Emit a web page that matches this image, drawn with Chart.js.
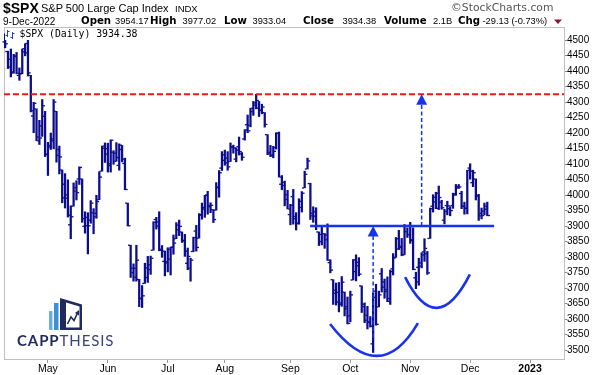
<!DOCTYPE html>
<html>
<head>
<meta charset="utf-8">
<script src="https://cdn.jsdelivr.net/npm/chart.js@4"></script>
<style>
  body { margin: 0; background: #fff; }
  #wrap { position: relative; width: 594px; height: 375px; overflow: hidden; }
  #chart { position: absolute; left: 0; top: 0; }
  .t { position: absolute; white-space: nowrap; line-height: 1; font-family: 'Liberation Sans', Arial, sans-serif; color: #000; }
  .b { font-family: 'DejaVu Sans'; font-weight: bold; font-size: 10.2px; top: 16.3px; }
  .v { font-size: 9.3px; top: 17.1px; }
  #leg { position: absolute; left: 5px; top: 28px; width: 133px; height: 12px; background: #fff; }
</style>
</head>
<body>
<div id="wrap">
  <canvas id="chart" width="594" height="375"></canvas>
  <div id="leg"></div>
  <svg style="position:absolute;left:0;top:0" width="594" height="375">
    <!-- legend icon -->
    <g stroke="#2c3fc8" stroke-width="1" fill="none">
      <path d="M7.5 30 V37 M7.5 31.5 H9.5 M5.5 35.5 H7.5"/>
      <path d="M12.5 32 V39 M12.5 33.5 H14.5 M10.5 37.5 H12.5"/>
    </g>
    <!-- change arrow -->
    <path d="M554 19.5 L562 19.5 L558 24 Z" fill="#8b1538"/>
    <!-- logo icon -->
    <rect x="49" y="311" width="3.5" height="19" fill="#6aaee0"/>
    <rect x="54" y="303" width="4.5" height="27" fill="#3f8fd6"/>
    <path d="M60 298 L82 304.5 L82 330 L60 330 Z M66 302.5 L79.5 306.5 L79.5 327.5 L66 327.5 Z" fill="#1f2b5e" fill-rule="evenodd"/>
    <polyline points="67.5,324 71,317 74,320.5 77.5,313" fill="none" stroke="#1f2b5e" stroke-width="1.6"/>
    <path d="M79 310 L79 315.5 L75 313 Z" fill="#1f2b5e"/>
  </svg>

  <div class="t" style="left:3px;top:1px;font-size:14px;font-weight:bold">$SPX</div>
  <div class="t" style="left:41px;top:2.7px;font-size:11px">S&amp;P 500 Large Cap Index</div>
  <div class="t" style="left:175px;top:3.5px;font-size:9.5px">INDX</div>
  <div class="t" style="left:451px;top:2.7px;font-size:10.8px;font-family:'DejaVu Sans';color:#555">©StockCharts.com</div>

  <div class="t" style="left:3px;top:16.5px;font-size:10px">9-Dec-2022</div>
  <div class="t b" style="left:81px">Open</div><div class="t v" style="left:115px">3954.17</div>
  <div class="t b" style="left:150px">High</div><div class="t v" style="left:182.5px">3977.02</div>
  <div class="t b" style="left:224px">Low</div><div class="t v" style="left:252.5px">3933.04</div>
  <div class="t b" style="left:303px">Close</div><div class="t v" style="left:342.5px">3934.38</div>
  <div class="t b" style="left:384px">Volume</div><div class="t v" style="left:433px">2.1B</div>
  <div class="t b" style="left:458px">Chg</div><div class="t v" style="left:482.5px">-29.13 (-0.73%)</div>

  <div class="t" style="left:19.5px;top:29px;font-size:9.8px;font-family:'DejaVu Sans Mono'">$SPX (Daily) 3934.38</div>

  <div class="t" style="left:17px;top:332.7px;font-size:15px;font-family:Lato;color:#1f2b5e;letter-spacing:0.9px"><b>CAPP</b><span style="color:#3a4478">THESIS</span></div>
</div>

<script>
// daily OHLC, 8-Apr-2022 .. 9-Dec-2022 (index 0 = 8-Apr)
const opens = [
  4494,4463,4438,4394,4449,4386,4391,4472,4489,4386,4255,4278,4187,4223,4254,
  4131,4160,4181,4270,4128,4081,4035,3990,3904,3964,4013,4052,4052,3899,3928,3919,3943,3930,3985,4077,4151,
  4150,4095,4138,4135,4096,4147,4102,3974,3838,3764,3764,3728,3666,3715,3734,3775,3822,3921,3913,3825,3786,
  3781,3793,3832,3859,3888,3881,3852,3780,3764,3818,3884,3861,3935,3955,4000,3966,3953,3951,4026,4087,
  4112,4104,4108,4155,4116,4156,4133,4181,4227,4225,4269,4290,4280,4273,4266,4195,4133,4127,4153,4199,4035,4041,4001,
  3937,3995,3931,3909,3960,4023,4084,4037,3941,3932,3881,3850,3875,3871,3782,3727,3683,3686,3652,3687,3633,
  3610,3726,3753,3772,3707,3648,3596,3591,3520,3690,3639,3746,3703,3689,3657,3762,3799,3826,3835,3808,3882,
  3902,3853,3733,3767,3781,3817,3811,3860,3964,3978,4006,3977,3919,3966,3956,3966,4000,4023,4005,3964,3957,
  4087,4040,4052,3997,3933,3948,3954
];
const highs = [
  4520,4464,4471,4454,4460,4410,4471,4488,4513,4386,4299,4278,4241,4308,4270,
  4170,4200,4308,4270,4158,4081,4069,4049,3965,4039,4046,4091,4052,3946,3943,3982,3956,3999,4075,4158,4168,
  4167,4178,4143,4169,4165,4160,4119,3974,3838,3778,3838,3728,3708,3780,3802,3803,3914,3928,3946,3837,3819,
  3830,3832,3871,3911,3919,3881,3873,3829,3796,3864,3902,3940,3974,3999,4012,3975,3953,4040,4079,4140,
  4145,4140,4168,4161,4152,4187,4137,4211,4258,4280,4302,4325,4302,4293,4266,4195,4160,4157,4201,4203,4063,4045,4015,
  3970,4018,3943,3988,4011,4077,4119,4038,3962,3959,3881,3900,3876,3907,3791,3727,3716,3718,3737,3687,3671,
  3690,3792,3807,3798,3707,3652,3641,3608,3685,3712,3690,3763,3729,3736,3758,3811,3863,3886,3860,3905,3894,
  3912,3894,3751,3796,3814,3859,3818,3958,4001,4009,4029,3983,3954,3980,3962,4006,4034,4034,4012,3977,4080,
  4101,4080,4052,4002,3958,3974,3977
];
const lows = [
  4475,4408,4381,4393,4391,4370,4391,4449,4384,4268,4201,4175,4163,4189,4124,
  4063,4147,4149,4106,4068,3975,3958,3929,3859,3964,3984,4034,3912,3877,3810,3909,3875,3925,3985,4077,4105,
  4074,4074,4099,4109,4080,4107,4017,3900,3734,3722,3722,3640,3637,3715,3718,3744,3822,3890,3820,3799,3739,
  3752,3742,3809,3859,3869,3847,3802,3759,3722,3817,3819,3861,3922,3928,3938,3943,3911,3951,3993,4079,
  4096,4080,4108,4135,4107,4129,4112,4177,4201,4220,4257,4278,4253,4262,4219,4130,4124,4120,4148,4058,4017,3965,3955,
  3904,3906,3887,3906,3945,4023,4084,3921,3912,3888,3837,3839,3828,3789,3749,3647,3645,3623,3641,3610,3584,
  3591,3726,3723,3739,3621,3588,3568,3574,3492,3580,3639,3687,3667,3656,3647,3742,3799,3824,3804,3808,3863,
  3844,3759,3698,3709,3765,3786,3744,3860,3945,3956,3953,3954,3907,3936,3933,3957,3999,4021,3956,3938,3939,
  4051,4027,3984,3918,3923,3936,3933
];
const closes = [
  4488,4413,4397,4447,4393,4392,4462,4459,4394,4272,4296,4175,4184,4288,4132,
  4155,4175,4300,4147,4123,3991,4001,3935,3930,4024,4008,4089,3924,3901,3901,3974,3941,3979,4058,4158,4132,
  4101,4177,4109,4121,4161,4116,4018,3901,3750,3735,3790,3667,3675,3765,3760,3796,3912,3900,3822,3819,3785,
  3825,3831,3845,3903,3899,3854,3819,3802,3790,3863,3831,3937,3960,3999,3962,3967,3921,4024,4072,4130,
  4119,4091,4155,4152,4145,4140,4122,4210,4207,4280,4297,4305,4274,4284,4228,4138,4129,4141,4199,4058,4031,3986,3955,
  3967,3924,3908,3980,4006,4067,4110,3933,3946,3901,3873,3900,3856,3790,3758,3693,3655,3647,3719,3640,3586,
  3678,3791,3783,3745,3640,3612,3589,3577,3670,3583,3678,3720,3695,3666,3753,3797,3859,3831,3807,3901,3872,
  3856,3760,3720,3771,3807,3828,3749,3956,3993,3957,3992,3959,3947,3965,3950,4004,4027,4026,3964,3958,4080,
  4077,4072,3999,3941,3934,3964,3934
];

const monthTicks = [15, 36, 57, 77, 100, 121, 142, 163, 184];
const monthLabels = ['May', 'Jun', 'Jul', 'Aug', 'Sep', 'Oct', 'Nov', 'Dec', '2023'];
const priceTicks = [3500, 3550, 3600, 3650, 3700, 3750, 3800, 3850, 3900, 3950, 4000,
                    4050, 4100, 4150, 4200, 4250, 4300, 4350, 4400, 4450, 4500];

// drawn annotations, in [bar index, price]
const resistance = 4325;
const neckline = 3900;
const necklineFrom = 106.9, necklineTo = 171.4;
const arrow1 = [129, 3540, 3900];
const arrow2 = [146, 3900, 4325];
const cup1 = [[113.9, 3584], [130.3, 3481], [144.7, 3587]];
const cup2 = [[140.2, 3735], [151.4, 3636], [162.9, 3744]];

const barColor = '#0c0c8e';
const blue = '#1733ee';
const frameColor = '#c0c0c0';

const ohlcTicks = {
  id: 'ohlcTicks',
  afterDatasetsDraw(chart) {
    const { ctx, scales: { y } } = chart;
    const meta = chart.getDatasetMeta(0);
    ctx.save();
    ctx.fillStyle = barColor;
    meta.data.forEach((bar, i) => {
      const yo = y.getPixelForValue(opens[i]);
      const yc = y.getPixelForValue(closes[i]);
      ctx.fillRect(bar.x - 2.7, yo - 0.6, 2, 1.3);
      ctx.fillRect(bar.x + 0.7, yc - 0.6, 2, 1.3);
    });
    ctx.restore();
  }
};

const frame = {
  id: 'frame',
  beforeDatasetsDraw(chart) {
    const { ctx, chartArea: a } = chart;
    ctx.save();
    ctx.strokeStyle = frameColor;
    ctx.lineWidth = 1;
    ctx.strokeRect(a.left + 0.5, a.top + 0.5, a.right - a.left, a.bottom - a.top);
    ctx.restore();
  }
};

const marks = {
  id: 'marks',
  afterDatasetsDraw(chart) {
    const { ctx, chartArea: a, scales: { x, y } } = chart;
    ctx.save();

    // resistance
    ctx.strokeStyle = '#ec1a1a';
    ctx.lineWidth = 2;
    ctx.setLineDash([6, 3]);
    ctx.beginPath();
    ctx.moveTo(a.left, y.getPixelForValue(resistance));
    ctx.lineTo(a.right, y.getPixelForValue(resistance));
    ctx.stroke();

    // neckline
    ctx.setLineDash([]);
    ctx.strokeStyle = blue;
    ctx.lineWidth = 2.6;
    ctx.beginPath();
    ctx.moveTo(x.getPixelForValue(necklineFrom), y.getPixelForValue(neckline));
    ctx.lineTo(x.getPixelForValue(necklineTo), y.getPixelForValue(neckline));
    ctx.stroke();

    // measured-move arrows
    ctx.fillStyle = blue;
    [arrow1, arrow2].forEach(([i, from, to]) => {
      const px = x.getPixelForValue(i);
      const y0 = y.getPixelForValue(from), y1 = y.getPixelForValue(to);
      ctx.lineWidth = 1.5;
      ctx.setLineDash([4, 2.5]);
      ctx.beginPath();
      ctx.moveTo(px, y0);
      ctx.lineTo(px, y1 + 10);
      ctx.stroke();
      ctx.setLineDash([]);
      ctx.beginPath();
      ctx.moveTo(px, y1);
      ctx.lineTo(px - 5.5, y1 + 10.5);
      ctx.lineTo(px + 5.5, y1 + 10.5);
      ctx.closePath();
      ctx.fill();
    });

    // cups
    ctx.lineWidth = 2.6;
    ctx.setLineDash([]);
    [cup1, cup2].forEach(([p0, pm, p2]) => {
      const x0 = x.getPixelForValue(p0[0]), y0 = y.getPixelForValue(p0[1]);
      const xm = x.getPixelForValue(pm[0]), ym = y.getPixelForValue(pm[1]);
      const x2 = x.getPixelForValue(p2[0]), y2 = y.getPixelForValue(p2[1]);
      const cx = 2 * xm - (x0 + x2) / 2, cy = 2 * ym - (y0 + y2) / 2;
      ctx.beginPath();
      ctx.moveTo(x0, y0);
      ctx.quadraticCurveTo(cx, cy, x2, y2);
      ctx.stroke();
    });
    ctx.restore();
  }
};

new Chart(document.getElementById('chart'), {
  type: 'bar',
  data: {
    datasets: [{
      data: opens.map((o, i) => ({ x: i, y: [lows[i], highs[i]] })),
      backgroundColor: barColor,
      borderWidth: 0,
      barThickness: 1.6
    }]
  },
  options: {
    responsive: false,
    animation: false,
    devicePixelRatio: 1,
    layout: { padding: { left: 4, top: 27, right: 0, bottom: 0 } },
    plugins: { legend: { display: false }, tooltip: { enabled: false } },
    scales: {
      x: {
        type: 'linear',
        offset: false,
        min: -0.4,
        max: 195.9,
        afterBuildTicks: s => { s.ticks = monthTicks.map(v => ({ value: v })); },
        afterFit: s => { s.height = 16; },
        ticks: {
          autoSkip: false,
          maxRotation: 0,
          padding: 0,
          color: '#000',
          font: c => ({ family: 'Liberation Sans', size: 10.5, weight: c.index === 8 ? 'bold' : 'normal' }),
          callback: (v, i) => monthLabels[i]
        },
        grid: { offset: false, drawOnChartArea: false, tickLength: 4, color: '#999' },
        border: { color: frameColor }
      },
      y: {
        position: 'right',
        min: 3471,
        max: 4542,
        afterBuildTicks: s => { s.ticks = priceTicks.map(v => ({ value: v })); },
        afterFit: s => { s.width = 30; },
        ticks: {
          padding: 0,
          color: '#000',
          font: { family: 'Liberation Sans', size: 10 },
          callback: v => String(v)
        },
        grid: { drawOnChartArea: false, tickLength: 3, color: '#888' },
        border: { color: frameColor }
      }
    }
  },
  plugins: [frame, ohlcTicks, marks]
});
</script>
</body>
</html>
